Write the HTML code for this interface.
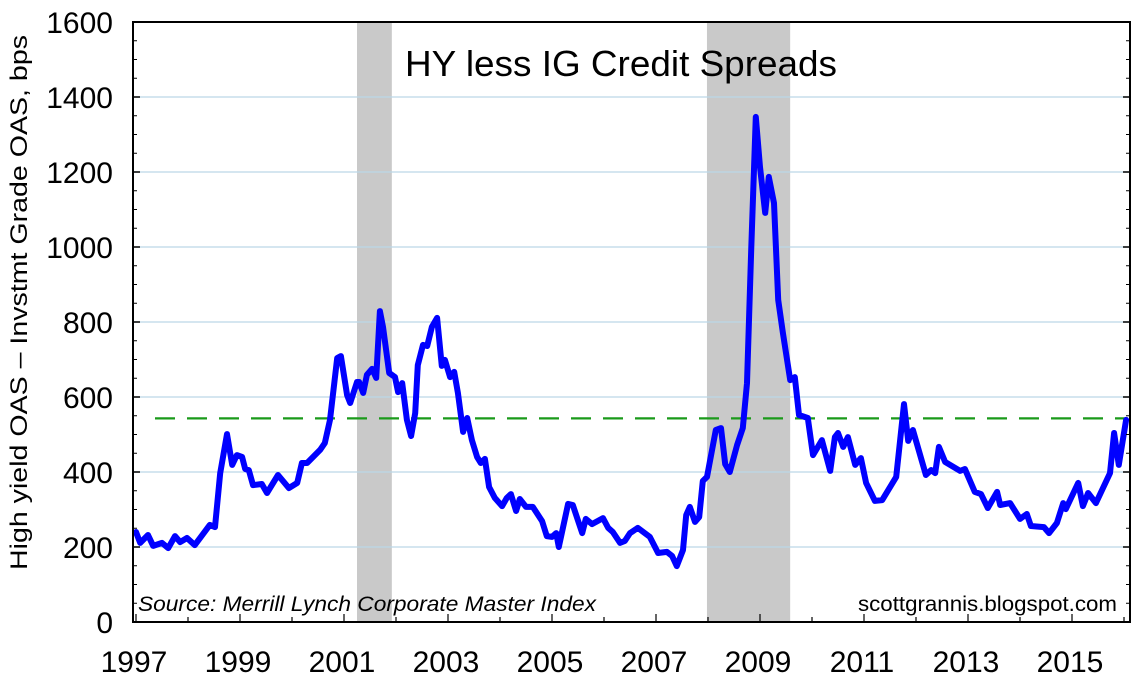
<!DOCTYPE html>
<html><head><meta charset="utf-8"><style>
html,body{margin:0;padding:0;background:#fff;}
svg{display:block;font-family:"Liberation Sans",sans-serif;}
</style></head><body>
<svg id="chart" width="1140" height="684" viewBox="0 0 1140 684" xmlns="http://www.w3.org/2000/svg">
<g id="bands"></g>
<g id="grid"></g>
<g id="ref"></g>
<g id="series"></g>
<g id="axes"></g>
<text x="405" y="76" font-size="36" textLength="432" lengthAdjust="spacingAndGlyphs" fill="#000">HY less IG Credit Spreads</text>
<text transform="translate(27,570) rotate(-90)" font-size="24" textLength="535" lengthAdjust="spacingAndGlyphs" fill="#000">High yield OAS – Invstmt Grade OAS, bps</text>
<text x="138" y="611" font-size="21" font-style="italic" textLength="458" lengthAdjust="spacingAndGlyphs" fill="#000">Source: Merrill Lynch Corporate Master Index</text>
<text x="858" y="611" font-size="21" textLength="259" lengthAdjust="spacingAndGlyphs" fill="#000">scottgrannis.blogspot.com</text>
</svg>
<script>
const years=[1997.0,1997.08,1997.23,1997.33,1997.5,1997.62,1997.75,1997.85,1997.98,1998.13,1998.42,1998.52,1998.62,1998.75,1998.85,1998.94,1999.04,1999.1,1999.17,1999.25,1999.42,1999.52,1999.73,1999.94,2000.1,2000.19,2000.29,2000.54,2000.63,2000.73,2000.87,2000.94,2001.06,2001.12,2001.25,2001.29,2001.37,2001.44,2001.54,2001.62,2001.69,2001.75,2001.87,2001.98,2002.04,2002.12,2002.21,2002.29,2002.37,2002.42,2002.52,2002.6,2002.69,2002.79,2002.88,2002.94,2003.04,2003.12,2003.19,2003.29,2003.37,2003.46,2003.56,2003.63,2003.71,2003.79,2003.9,2004.04,2004.13,2004.21,2004.31,2004.38,2004.5,2004.63,2004.81,2004.9,2005.0,2005.08,2005.13,2005.31,2005.4,2005.58,2005.65,2005.77,2005.98,2006.08,2006.17,2006.31,2006.4,2006.5,2006.65,2006.88,2007.04,2007.21,2007.31,2007.4,2007.52,2007.58,2007.65,2007.75,2007.83,2007.9,2007.98,2008.15,2008.25,2008.33,2008.42,2008.56,2008.67,2008.75,2008.83,2008.92,2009.0,2009.1,2009.17,2009.27,2009.35,2009.44,2009.58,2009.67,2009.75,2009.92,2010.02,2010.19,2010.35,2010.44,2010.5,2010.6,2010.69,2010.83,2010.94,2011.04,2011.21,2011.35,2011.62,2011.77,2011.85,2011.94,2012.19,2012.29,2012.37,2012.44,2012.56,2012.85,2012.94,2013.13,2013.25,2013.38,2013.56,2013.62,2013.81,2014.0,2014.13,2014.21,2014.46,2014.56,2014.71,2014.83,2014.88,2015.12,2015.21,2015.31,2015.46,2015.73,2015.81,2015.9,2016.04];
const spreads=[240,211,232,203,211,197,229,213,224,205,259,253,397,501,419,445,440,408,405,365,368,344,392,357,371,424,424,459,477,539,704,709,605,584,640,640,611,659,675,651,829,787,664,653,613,637,539,496,557,685,739,736,787,811,683,699,653,667,611,507,544,485,440,424,435,360,331,309,331,341,296,328,307,307,269,229,227,237,200,315,312,237,275,261,277,251,240,211,216,237,251,227,184,187,176,149,192,285,307,267,280,376,387,512,517,421,400,472,517,637,992,1347,1213,1091,1187,1117,859,771,645,653,552,544,445,485,403,493,504,467,493,419,437,371,323,325,387,581,483,512,392,405,397,467,427,403,408,347,341,304,347,312,317,275,288,256,253,237,264,317,301,371,309,344,317,397,504,419,539];
const yTicks=[0,200,400,600,800,1000,1200,1400,1600];
const xTicks=[1997,1999,2001,2003,2005,2007,2009,2011,2013,2015];
const recessions=[[2001.25,2001.92],[2007.98,2009.58]];
const averageSpread=543;

const L=133,R=1130,T=22,B=622;
const xs=y=>136+(y-1997)*52;
const ys=v=>B-(v/1600)*(B-T);
const NS="http://www.w3.org/2000/svg";
function mk(tag,parent,attrs){const e=document.createElementNS(NS,tag);for(const k in attrs)e.setAttribute(k,attrs[k]);parent.appendChild(e);return e;}

const gb=document.getElementById('bands');
recessions.forEach(r=>{
  const e=mk('rect',gb,{x:xs(r[0]),y:T,width:xs(r[1])-xs(r[0]),height:B-T,fill:'#c9c9c9'});
  
  
});
const gg=document.getElementById('grid'),ga=document.getElementById('axes');
yTicks.forEach(t=>{
  if(t>0&&t<1600){const g=mk('line',gg,{x1:L,x2:R,y1:ys(t),y2:ys(t),stroke:'#bcd8e8','stroke-width':1.2});
  
  }
  const lb=mk('text',ga,{x:113,y:ys(t)+11,'font-size':30,'text-anchor':'end',fill:'#000'});
  lb.textContent=t;
  
  
  mk('line',ga,{x1:L,x2:L+7,y1:ys(t),y2:ys(t),stroke:'#000','stroke-width':1.5});
  mk('line',ga,{x1:R-7,x2:R,y1:ys(t),y2:ys(t),stroke:'#000','stroke-width':1.5});
  if(t<1600){for(let k=1;k<4;k++){const yy=ys(t+k*50);
    mk('line',ga,{x1:L,x2:L+4,y1:yy,y2:yy,stroke:'#000','stroke-width':1});
    mk('line',ga,{x1:R-4,x2:R,y1:yy,y2:yy,stroke:'#000','stroke-width':1});}}
});
xTicks.forEach(t=>{
  const lb=mk('text',ga,{x:xs(t)-2,y:672,'font-size':30,'text-anchor':'middle',fill:'#000'});
  lb.textContent=t;
  
  
});
for(let y=1997;y<=2016;y++){mk('line',ga,{x1:xs(y),x2:xs(y),y1:B,y2:B-(y%2?8:5),stroke:'#000','stroke-width':1.2});}
mk('rect',ga,{x:L,y:T,width:R-L,height:B-T,fill:'none',stroke:'#000','stroke-width':2});

const gr=document.getElementById('ref');
const rl=mk('line',gr,{x1:155,x2:R-2,y1:ys(averageSpread),y2:ys(averageSpread),stroke:'#1a9a1a','stroke-width':2.2,'stroke-dasharray':'20 12'});



const gs=document.getElementById('series');
const pts=years.map((y,i)=>xs(y).toFixed(1)+','+ys(spreads[i]).toFixed(1)).join(' ');
const pl=mk('polyline',gs,{points:pts,fill:'none',stroke:'#0000ff','stroke-width':6,'stroke-linejoin':'round','stroke-linecap':'round'});


</script>
</body></html>
